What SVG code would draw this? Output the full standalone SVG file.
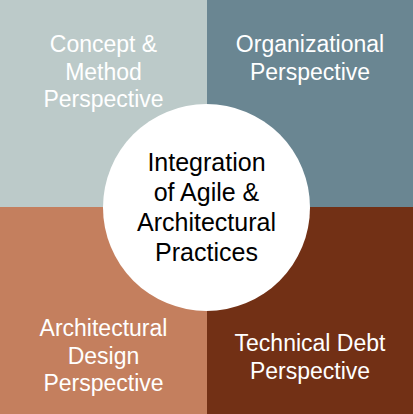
<svg xmlns="http://www.w3.org/2000/svg" width="413" height="414" viewBox="0 0 413 414">
<style>
.q{font-family:"Liberation Sans",Arial,sans-serif;font-size:23px;fill:#ffffff;text-anchor:middle}
.c{font-family:"Liberation Sans",Arial,sans-serif;font-size:25px;fill:#000000;text-anchor:middle}
</style>
<g id="concept-method">
<rect x="0" y="0" width="207" height="207" fill="#bccac9"/>
<text class="q" x="103.5" y="52">Concept &amp;</text>
<text class="q" x="103.5" y="79.5">Method</text>
<text class="q" x="103.5" y="107">Perspective</text>
</g>
<g id="organizational">
<rect x="207" y="0" width="206" height="207" fill="#6a8692"/>
<text class="q" x="310" y="52">Organizational</text>
<text class="q" x="310" y="79.5">Perspective</text>
</g>
<g id="architectural-design">
<rect x="0" y="207" width="207" height="207" fill="#c47f5e"/>
<text class="q" x="103.5" y="336">Architectural</text>
<text class="q" x="103.5" y="363.5">Design</text>
<text class="q" x="103.5" y="391">Perspective</text>
</g>
<g id="technical-debt">
<rect x="207" y="207" width="206" height="207" fill="#723015"/>
<text class="q" x="310" y="351">Technical Debt</text>
<text class="q" x="310" y="378.5">Perspective</text>
</g>
<g id="integration">
<circle cx="206.5" cy="207.5" r="103.5" fill="#ffffff"/>
<text class="c" x="206.5" y="171">Integration</text>
<text class="c" x="206.5" y="201">of Agile &amp;</text>
<text class="c" x="206.5" y="231">Architectural</text>
<text class="c" x="206.5" y="261">Practices</text>
</g>
</svg>
